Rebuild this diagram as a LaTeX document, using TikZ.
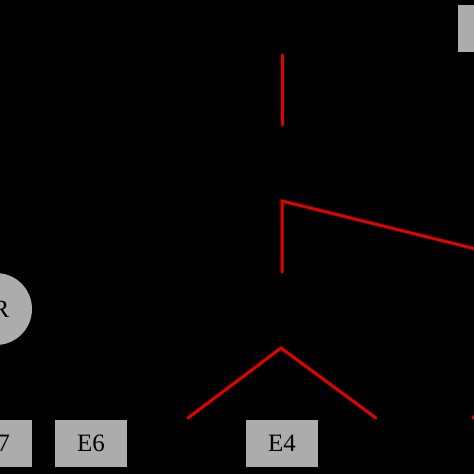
\documentclass[tikz,border=0pt]{standalone}
\usepackage{fontspec}
\setmainfont{Liberation Serif}
\begin{document}
\begin{tikzpicture}[x=1pt,y=-1pt,
  gbox/.style={fill=gray!65,draw=black,line width=0.6pt,minimum width=73pt,minimum height=48pt,inner sep=0pt,font=\fontsize{25}{25}\selectfont},
  gcirc/.style={circle,fill=gray!65,minimum size=72pt,inner sep=0pt,font=\fontsize{25}{25}\selectfont},
  redline/.style={draw=red!90!black,line width=3pt,line cap=round,line join=miter}]
\fill[black] (0,0) rectangle (474,474);
\useasboundingbox (0,0) rectangle (474,474);
% nodes
\node[gbox,minimum width=40pt] (tr) at (477,28) {};
\node[gcirc] (rc) at (-4,309) {};
\node at (1,309) [font=\fontsize{25}{25}\selectfont] (rt) {R};
\node[gbox] (e7) at (-4,443) {E7};
\node[gbox] (e6) at (91,443) {E6};
\node[gbox] (e4) at (282,443) {E4};
% connector endpoints
\coordinate (a1) at (282,55);
\coordinate (a2) at (282,125);
\coordinate (b1) at (282,272);
\coordinate (b2) at (282,201);
\coordinate (b3) at (480,250);
\coordinate (c0) at (281,348);
\coordinate (c1) at (188,418);
\coordinate (c2) at (376,418);
\coordinate (d1) at (473,418);
\coordinate (d2) at (480,410);
\draw[redline] (a1) -- (a2);
\draw[redline] (b1) -- (b2) -- (b3);
\draw[redline] (c1) -- (c0) -- (c2);
\draw[redline] (d1) -- (d2);
\end{tikzpicture}
\end{document}
